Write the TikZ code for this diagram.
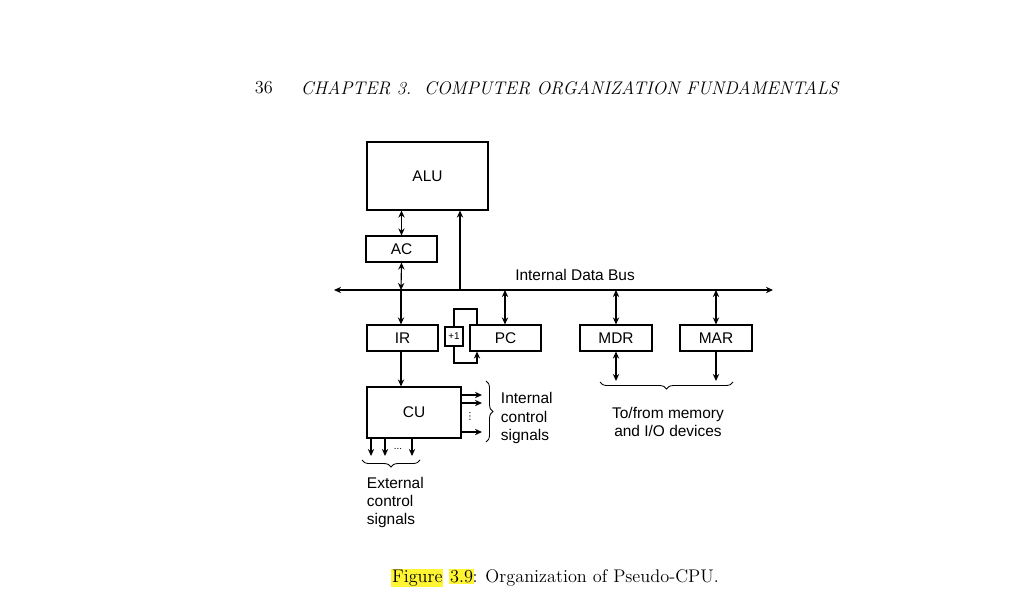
\documentclass[tikz,border=0pt]{standalone}
\usepackage{fontspec}
\newfontfamily\arial{Liberation Sans}
\newfontfamily\dvs{DejaVu Sans}
\usetikzlibrary{arrows.meta,decorations.pathreplacing}
\begin{document}
\begin{tikzpicture}[x=0.025cm,y=-0.025cm,
  blk/.style={draw,line width=0.8pt,inner sep=0pt,font=\arial\fontsize{11}{12}\selectfont},
  ar/.style={line width=0.8pt,-{Stealth[length=5pt,width=4.5pt]}},
  dar/.style={line width=0.8pt,{Stealth[length=5pt,width=4.5pt]}-{Stealth[length=5pt,width=4.5pt]}},
  lbl/.style={font=\arial\fontsize{11}{13}\selectfont,align=left},
  br/.style={decorate,decoration={brace,amplitude=5pt},line width=0.6pt}]
\useasboundingbox (0,0) rectangle (1024,604);
\node[font=\fontsize{13}{15}\selectfont,anchor=west] (pg) at (250,88) {36};
\node[font=\itshape\fontsize{13}{15}\selectfont,anchor=west] (hd) at (296,88) {CHAPTER 3.\ \ COMPUTER ORGANIZATION FUNDAMENTALS};
% boxes
\node[blk,minimum width=121*0.025cm,minimum height=68*0.025cm] (alu) at (427.5,176) {ALU};
\node[blk,minimum width=71*0.025cm,minimum height=26*0.025cm] (ac) at (401.5,249) {AC};
\node[blk,minimum width=71*0.025cm,minimum height=26*0.025cm] (ir) at (402.5,338) {IR};
\node[blk,minimum width=71*0.025cm,minimum height=26*0.025cm] (pc) at (505.5,338) {PC};
\node[blk,minimum width=72*0.025cm,minimum height=26*0.025cm] (mdr) at (616,338) {MDR};
\node[blk,minimum width=72*0.025cm,minimum height=26*0.025cm] (mar) at (716,338) {MAR};
\node[blk,minimum width=18*0.025cm,minimum height=19*0.025cm,font=\arial\fontsize{7}{8}\selectfont] (inc) at (454,336.5) {+1};
\node[blk,minimum width=94*0.025cm,minimum height=51*0.025cm] (cu) at (414,412.5) {CU};
% bus
\coordinate (bl) at (334,290); \coordinate (brr) at (773,290);
\draw[dar] (bl) -- (brr);
\node[lbl] (busl) at (575,275) {Internal Data Bus};
\coordinate (b1) at (401,290); \coordinate (b2) at (460,290);
\coordinate (b3) at (505,290); \coordinate (b4) at (616,290); \coordinate (b5) at (716,290);
\draw[dar] (alu.south -| ac) -- (ac.north);
\draw[dar] (ac.south) -- (b1);
\draw[ar] (b1) -- (ir.north -| b1);
\draw[ar] (b2) -- (alu.south -| b2);
\draw[dar] (b3) -- (pc.north -| b3);
\draw[dar] (b4) -- (mdr.north);
\draw[dar] (b5) -- (mar.north);
\draw[ar] (ir.south -| b1) -- (cu.north -| b1);
% increment loop
\draw[line width=0.8pt] (pc.north -| 477,0) -- (477,309) -- (454,309) -- (inc.north);
\draw[ar] (inc.south) -- (454,363) -- (477,363) -- (pc.south -| 477,0);
% memory side
\coordinate (m1) at (616,381); \coordinate (m2) at (716,381);
\draw[dar] (mdr.south) -- (m1);
\draw[ar] (mar.south) -- (m2);
\draw[br] (733,382) -- (600,382);
\node[lbl,align=center] (mem) at (668,422) {To/from memory\\and I/O devices};
% internal signals
\coordinate (i1) at (482,395); \coordinate (i2) at (482,403); \coordinate (i3) at (482,432);
\draw[ar] (cu.east |- i1) -- (i1);
\draw[ar] (cu.east |- i2) -- (i2);
\draw[ar] (cu.east |- i3) -- (i3);
\node[font=\dvs\fontsize{7}{7}\selectfont,inner sep=0pt] (vd) at (470,416) {⋮};
\draw[br] (486,381) -- (486,442);
\node[lbl,anchor=west] (ics) at (496,418) {Internal\\control\\signals};
% external signals
\coordinate (e1) at (371,456); \coordinate (e2) at (385,456); \coordinate (e3) at (412,456);
\draw[ar] (cu.south -| e1) -- (e1);
\draw[ar] (cu.south -| e2) -- (e2);
\draw[ar] (cu.south -| e3) -- (e3);
\node[font=\arial\fontsize{7}{8}\selectfont,inner sep=0pt] (hd2) at (398,449) {...};
\draw[br] (420,460) -- (362,460);
\node[lbl,anchor=north west] (ecs) at (362,472) {External\\control\\signals};
% caption
\node[font=\fontsize{13}{15}\selectfont] (cap) at (555,578) {\setlength\fboxsep{0.6pt}\colorbox{yellow!80}{Figure} \colorbox{yellow!80}{3.9}\kern-1pt: Organization of Pseudo-CPU.};
\end{tikzpicture}
\end{document}
